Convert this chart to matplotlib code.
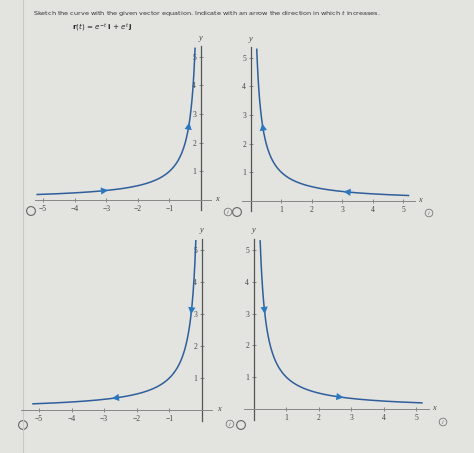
import numpy as np
import matplotlib.pyplot as plt
from matplotlib.patches import Circle

# parameter values for r(t) = e^-t i + e^t j
t = np.linspace(-1.65, 1.67, 400)
xs = np.exp(-t)
ys = np.exp(t)

neg_ticks = [-5, -4, -3, -2, -1]
pos_ticks = [1, 2, 3, 4, 5]
y_ticks = [1, 2, 3, 4, 5]

# side of the y-axis, arrow positions on flat and steep parts, and which way they point
panels = [
    dict(sx=-1, flat=-3.1, steep=2.5, flat_dir=1, steep_dir=1),
    dict(sx=1, flat=3.2, steep=2.5, flat_dir=-1, steep_dir=1),
    dict(sx=-1, flat=-2.6, steep=3.2, flat_dir=-1, steep_dir=-1),
    dict(sx=1, flat=2.6, steep=3.2, flat_dir=1, steep_dir=-1),
]

W, H = 474, 453
bg = '#e3e3e0'
curve_c = '#2f5f9a'
arrow_c = '#2a78c0'

fig = plt.figure(figsize=(W/100, H/100), dpi=100)
fig.patch.set_facecolor(bg)

# overlay in pixel units for page decorations
deco = fig.add_axes([0, 0, 1, 1])
deco.set_xlim(0, W)
deco.set_ylim(H, 0)
deco.axis('off')
deco.axvline(23, color='#c8c8c4', lw=0.8)
deco.text(33, 14, "Sketch the curve with the given vector equation. Indicate with an arrow the direction in which $t$ increases.",
          fontsize=4.65, color='#333333', va='center')
deco.text(72, 27, r"$\mathbf{r}(t)\,=\,e^{-t}\,\mathbf{i}\,+\,e^{t}\,\mathbf{j}$", fontsize=5.1, color='#222222', va='center')

radios = [(31, 211), (237, 212), (23, 425), (241, 425)]
infos = [(228, 212), (429, 213), (230, 424), (443, 422)]
for cx, cy in radios:
    deco.add_patch(Circle((cx, cy), 4.4, fill=False, ec='#666666', lw=0.8))
for cx, cy in infos:
    deco.add_patch(Circle((cx, cy), 3.8, fill=False, ec='#777777', lw=0.6))
    deco.text(cx, cy + 0.3, 'i', fontsize=4.5, ha='center', va='center', color='#777777', style='italic')


def px_axes(left, right, bottom, top):
    return fig.add_axes([left / W, 1 - bottom / H, (right - left) / W, (bottom - top) / H])


# pixel boxes and limits for the four panels
boxes = [
    dict(px=(33.5, 220.0, 214.4, 39.3), xlim=(-5.3, 0.6), ylim=(-0.5, 5.6)),
    dict(px=(235.8, 427.3, 215.4, 40.3), xlim=(-0.5, 5.8), ylim=(-0.5, 5.6)),
    dict(px=(19.4, 224.8, 429.2, 227.6), xlim=(-5.6, 0.7), ylim=(-0.6, 5.7)),
    dict(px=(234.6, 441.9, 428.1, 227.8), xlim=(-0.6, 5.8), ylim=(-0.6, 5.7)),
]

arrow_props = dict(arrowstyle='-|>', color=arrow_c, lw=0, mutation_scale=13)

for p, b in zip(panels, boxes):
    ax = px_axes(*b['px'])
    ax.set_facecolor('none')
    ax.set_xlim(*b['xlim'])
    ax.set_ylim(*b['ylim'])
    sx = p['sx']
    for s in ['top', 'right']:
        ax.spines[s].set_visible(False)
    ax.spines['left'].set_position('zero')
    ax.spines['bottom'].set_position('zero')
    ax.spines['left'].set_color('#555555')
    ax.spines['bottom'].set_color('#888888')
    ax.spines['left'].set_linewidth(0.9)
    ax.spines['bottom'].set_linewidth(0.7)
    if sx < 0:
        ax.spines['bottom'].set_bounds(b['xlim'][0] + 0.05, 0.3)
        ax.set_xticks(neg_ticks)
        ax.set_xticklabels(['\u2212%d' % abs(v) for v in neg_ticks])
        ax.text(0.45, 0.03, 'x', fontsize=6, style='italic', family='Liberation Serif', color='#444444', va='center')
    else:
        ax.spines['bottom'].set_bounds(-0.3, 5.4)
        ax.set_xticks(pos_ticks)
        ax.text(5.5, 0.03, 'x', fontsize=6, style='italic', family='Liberation Serif', color='#444444', va='center')
    ax.spines['left'].set_bounds(-0.35, 5.35)
    ax.set_yticks(y_ticks)
    ax.text(0.0, 5.5, 'y', fontsize=6, style='italic', family='Liberation Serif',
            color='#444444', ha='center', va='bottom')
    ax.tick_params(direction='inout', length=3, width=0.6, colors='#777777', labelsize=5.5, pad=2,
                   labelcolor='#444444')
    for lab in ax.get_xticklabels() + ax.get_yticklabels():
        lab.set_family('Liberation Serif')

    ax.plot(sx * xs, ys, color=curve_c, lw=1.1, solid_capstyle='butt', zorder=3)

    # arrows showing the direction t increases
    fx = p['flat']
    fx2 = fx + 0.25 * p['flat_dir']
    ax.annotate('', xy=(fx2, 1 / abs(fx2)), xytext=(fx, 1 / abs(fx)), arrowprops=arrow_props, zorder=4)
    sy = p['steep']
    sy2 = sy + 0.3 * p['steep_dir']
    ax.annotate('', xy=(sx / sy2, sy2), xytext=(sx / sy, sy), arrowprops=arrow_props, zorder=4)

fig.savefig('out.png', dpi=100, facecolor=bg)
